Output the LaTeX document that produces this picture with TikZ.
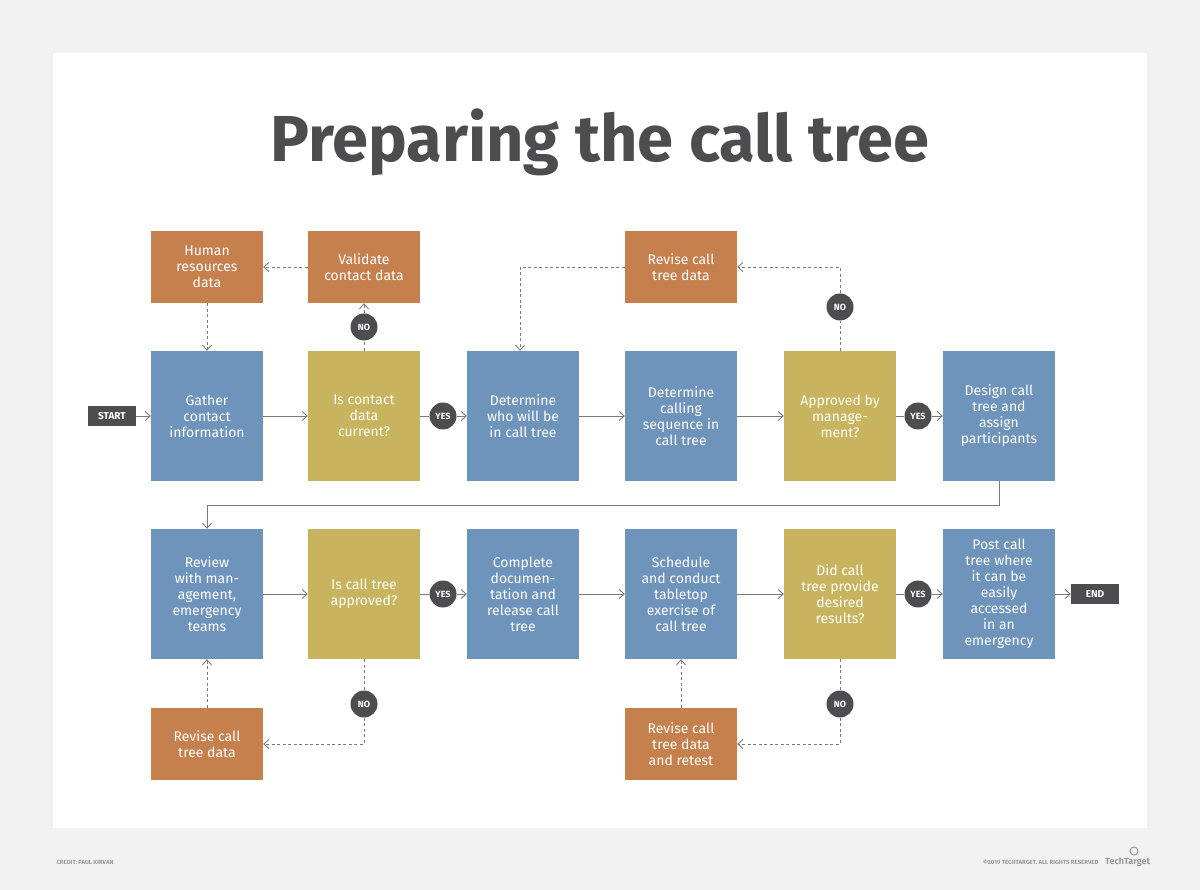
\documentclass[tikz,border=0pt]{standalone}
\usepackage{fontspec}
\setmainfont{Fira Sans}
\usetikzlibrary{arrows.meta}
\definecolor{cblue}{HTML}{6F94BB}
\definecolor{colive}{HTML}{C8B45F}
\definecolor{corange}{HTML}{C5804E}
\definecolor{cdark}{HTML}{4D4D4F}
\definecolor{cline}{HTML}{7A7A7A}
\begin{document}
\begin{tikzpicture}[x=1pt,y=-1pt,
  box/.style={minimum width=112pt,align=center,text=white,font=\fontsize{14}{16}\selectfont,inner sep=0pt},
  mainbox/.style={box,minimum height=130pt},
  smallbox/.style={box,minimum height=72pt,fill=corange},
  bl/.style={mainbox,fill=cblue},
  ol/.style={mainbox,fill=colive},
  tag/.style={fill=cdark,text=white,font=\bfseries\fontsize{10}{12}\selectfont,minimum width=48pt,minimum height=20pt,inner sep=0pt},
  yn/.style={circle,fill=cdark,text=white,font=\bfseries\fontsize{9}{10}\selectfont,minimum size=27pt,inner sep=0pt},
  ar/.style={draw=cline,line width=0.9pt,-{Straight Barb[length=5pt,width=9pt]}},
  ln/.style={draw=cline,line width=0.9pt},
  dar/.style={ar,dashed,dash pattern=on 3pt off 2.5pt},
  dln/.style={ln,dashed,dash pattern=on 3pt off 2.5pt}]
\useasboundingbox (0,0) rectangle (1200,890);
\fill[gray!10] (0,0) rectangle (1200,890);
\fill[white] (53,53) rectangle (1147,828);
\node[text=cdark,font=\bfseries\fontsize{65}{72}\selectfont] (title) at (600,142) {Preparing the call tree};
% row 1
\node[tag] (start) at (112,416) {START};
\node[bl] (gather) at (207,416) {Gather\\contact\\information};
\node[ol] (iscur) at (364,416) {Is contact\\data\\current?};
\node[bl] (who) at (523,416) {Determine\\who will be\\in call tree};
\node[bl] (seq) at (681,416) {Determine\\calling\\sequence in\\call tree};
\node[ol] (appr) at (840,416) {Approved by\\manage-\\ment?};
\node[bl] (design) at (999,416) {Design call\\tree and\\assign\\participants};
\node[smallbox] (hr) at (207,267) {Human\\resources\\data};
\node[smallbox] (valid) at (364,267) {Validate\\contact data};
\node[smallbox] (rev1) at (681,267) {Revise call\\tree data};
\node[yn] (yes1) at (443,416) {YES};
\node[yn] (yes2) at (918,416) {YES};
\node[yn] (no1) at (364,327) {NO};
\node[yn] (no2) at (840,307) {NO};
% row 2
\node[bl] (review) at (207,594) {Review\\with man-\\agement,\\emergency\\teams};
\node[ol] (isappr) at (364,594) {Is call tree\\approved?};
\node[bl] (compl) at (523,594) {Complete\\documen-\\tation and\\release call\\tree};
\node[bl] (sched) at (681,594) {Schedule\\and conduct\\tabletop\\exercise of\\call tree};
\node[ol] (did) at (840,594) {Did call\\tree provide\\desired\\results?};
\node[bl] (post) at (999,594) {Post call\\tree where\\it can be\\easily\\accessed\\in an\\emergency};
\node[tag] (end) at (1095,594) {END};
\node[smallbox] (rev2) at (207,744) {Revise call\\tree data};
\node[smallbox] (rev3) at (681,744) {Revise call\\tree data\\and retest};
\node[yn] (yes3) at (443,594) {YES};
\node[yn] (yes4) at (918,594) {YES};
\node[yn] (no3) at (364,704) {NO};
\node[yn] (no4) at (840,704) {NO};
% connectors row 1
\draw[ar] (start) -- (gather);
\draw[ar] (gather) -- (iscur);
\draw[ln] (iscur) -- (yes1);
\draw[ar] (yes1) -- (who);
\draw[ar] (who) -- (seq);
\draw[ar] (seq) -- (appr);
\draw[ln] (appr) -- (yes2);
\draw[ar] (yes2) -- (design);
\draw[dln] (iscur.north) -- (no1);
\draw[dar] (no1) -- (valid);
\draw[dar] (valid) -- (hr);
\draw[dar] (hr) -- (gather);
\draw[dln] (appr.north) -- (no2);
\draw[dar] (no2) |- (rev1);
\coordinate (c1) at (520,267);
\draw[dar] (rev1.west) -- (c1) -- (c1 |- who.north);
\coordinate (c2) at (999,505);
\draw[ar] (design.south) -- (c2) -| (review.north);
% row 2
\draw[ar] (review) -- (isappr);
\draw[ln] (isappr) -- (yes3);
\draw[ar] (yes3) -- (compl);
\draw[ar] (compl) -- (sched);
\draw[ar] (sched) -- (did);
\draw[ln] (did) -- (yes4);
\draw[ar] (yes4) -- (post);
\draw[ar] (post) -- (end);
\draw[dln] (isappr.south) -- (no3);
\draw[dar] (no3) |- (rev2);
\draw[dar] (rev2) -- (review);
\draw[dln] (did.south) -- (no4);
\draw[dar] (no4) |- (rev3);
\draw[dar] (rev3) -- (sched);
% footer
\node[anchor=west,text=gray!80,font=\bfseries\fontsize{6}{7}\selectfont] (credit) at (53,862) {CREDIT: PAUL KIRVAN};
\node[anchor=east,text=gray!80,font=\bfseries\fontsize{6}{7}\selectfont] (copy) at (1102,862) {©2019 TECHTARGET. ALL RIGHTS RESERVED};
\node[anchor=west,text=gray!80,font=\bfseries\fontsize{9}{10}\selectfont,inner sep=0pt] (logo) at (1105,862) {TechTarget};
\draw[gray!80,line width=1pt] (1134,851) circle (4pt);
\end{tikzpicture}
\end{document}
